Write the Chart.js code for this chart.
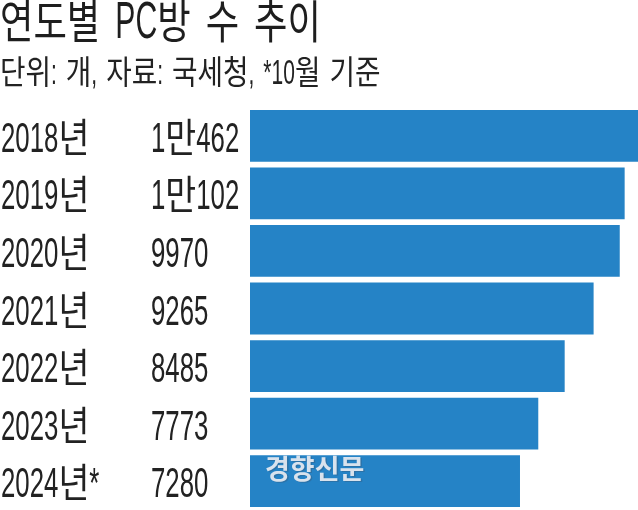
<!DOCTYPE html>
<html>
<head>
<meta charset="utf-8">
<script src="https://cdn.jsdelivr.net/npm/chart.js@4"></script>
<style>
html,body{margin:0;padding:0;background:#fff;}
canvas{display:block;}
</style>
</head>
<body>
<canvas id="c" width="638" height="510"></canvas>
<script>
const titleText = '연도별 PC방 수 추이';
const subtitleText = '단위: 개, 자료: 국세청, *10월 기준';
const years = ['2018년', '2019년', '2020년', '2021년', '2022년', '2023년', '2024년*'];
const counts = [10462, 10102, 9970, 9265, 8485, 7773, 7280];
const watermark = '경향신문';

function fmt(v) {
  if (v >= 10000) return Math.floor(v / 10000) + '만' + (v % 10000);
  return String(v);
}

function isKo(ch) { return ch.charCodeAt(0) >= 0x1100; }

// draw text with separate condensed styles for Hangul and Latin runs
function drawMixed(ctx, text, x, y, o) {
  let runs = [];
  for (const ch of text) {
    const k = ch === ' ' ? 's' : isKo(ch);
    if (runs.length && runs[runs.length - 1].k === k) runs[runs.length - 1].t += ch;
    else runs.push({k, t: ch});
  }
  let cx = x;
  ctx.save();
  ctx.fillStyle = o.color || '#222';
  ctx.textBaseline = 'alphabetic';
  ctx.textAlign = 'left';
  for (const r of runs) {
    if (r.k === 's') { cx += r.t.length * (o.space || 8); continue; }
    const size = r.k ? o.kSize : o.lSize;
    const sc = r.k ? o.kScale : o.lScale;
    const w = r.k ? (o.kWeight || 'normal') : (o.lWeight || 'normal');
    const fam = r.k ? '"Noto Sans CJK KR", sans-serif' : '"Liberation Sans", Arial, sans-serif';
    ctx.font = w + ' ' + size + 'px ' + fam;
    ctx.save();
    ctx.translate(cx, y);
    ctx.scale(sc, 1);
    ctx.fillText(r.t, 0, 0);
    ctx.restore();
    cx += ctx.measureText(r.t).width * sc;
  }
  ctx.restore();
  return cx;
}

const labelPlugin = {
  id: 'labels',
  afterDraw(chart) {
    const ctx = chart.ctx;
    const ys = chart.scales.y;
    // title + subtitle
    drawMixed(ctx, titleText, 0, 38, {kSize: 46, kScale: 0.79, lSize: 52, lScale: 0.58, space: 15, color: '#1e1e1e'});
    drawMixed(ctx, subtitleText, 0, 84, {kSize: 33, kScale: 0.84, lSize: 35, lScale: 0.6, space: 9, color: '#222'});
    const lab = {kSize: 40, kScale: 0.84, lSize: 43, lScale: 0.6, color: '#222'};
    years.forEach((yr, i) => {
      const cy = ys.getPixelForValue(i);
      const base = cy + 16;
      drawMixed(ctx, yr, 1, base, lab);
      drawMixed(ctx, fmt(counts[i]), 151, base, lab);
    });
    // watermark
    const last = ys.getPixelForValue(years.length - 1);
    ctx.save();
    ctx.font = 'bold 27px "Noto Sans CJK KR", sans-serif';
    ctx.textBaseline = 'alphabetic';
    ctx.fillStyle = 'rgba(60,75,100,0.3)';
    ctx.fillText(watermark, 266.5, last - 1);
    ctx.fillStyle = 'rgba(232,236,242,0.92)';
    ctx.fillText(watermark, 265, last - 2);
    ctx.restore();
  }
};

new Chart(document.getElementById('c'), {
  type: 'bar',
  data: {
    labels: years,
    datasets: [{
      data: counts,
      backgroundColor: '#2583c6',
      borderWidth: 0,
      barPercentage: 0.9,
      categoryPercentage: 1.0
    }]
  },
  options: {
    indexAxis: 'y',
    responsive: false,
    animation: false,
    layout: {padding: {left: 250, top: 107, right: 0, bottom: 0}},
    plugins: {legend: {display: false}, tooltip: {enabled: false}, title: {display: false}},
    scales: {
      x: {display: false, min: 0, max: 10462},
      y: {display: false}
    }
  },
  plugins: [labelPlugin]
});
</script>
</body>
</html>
